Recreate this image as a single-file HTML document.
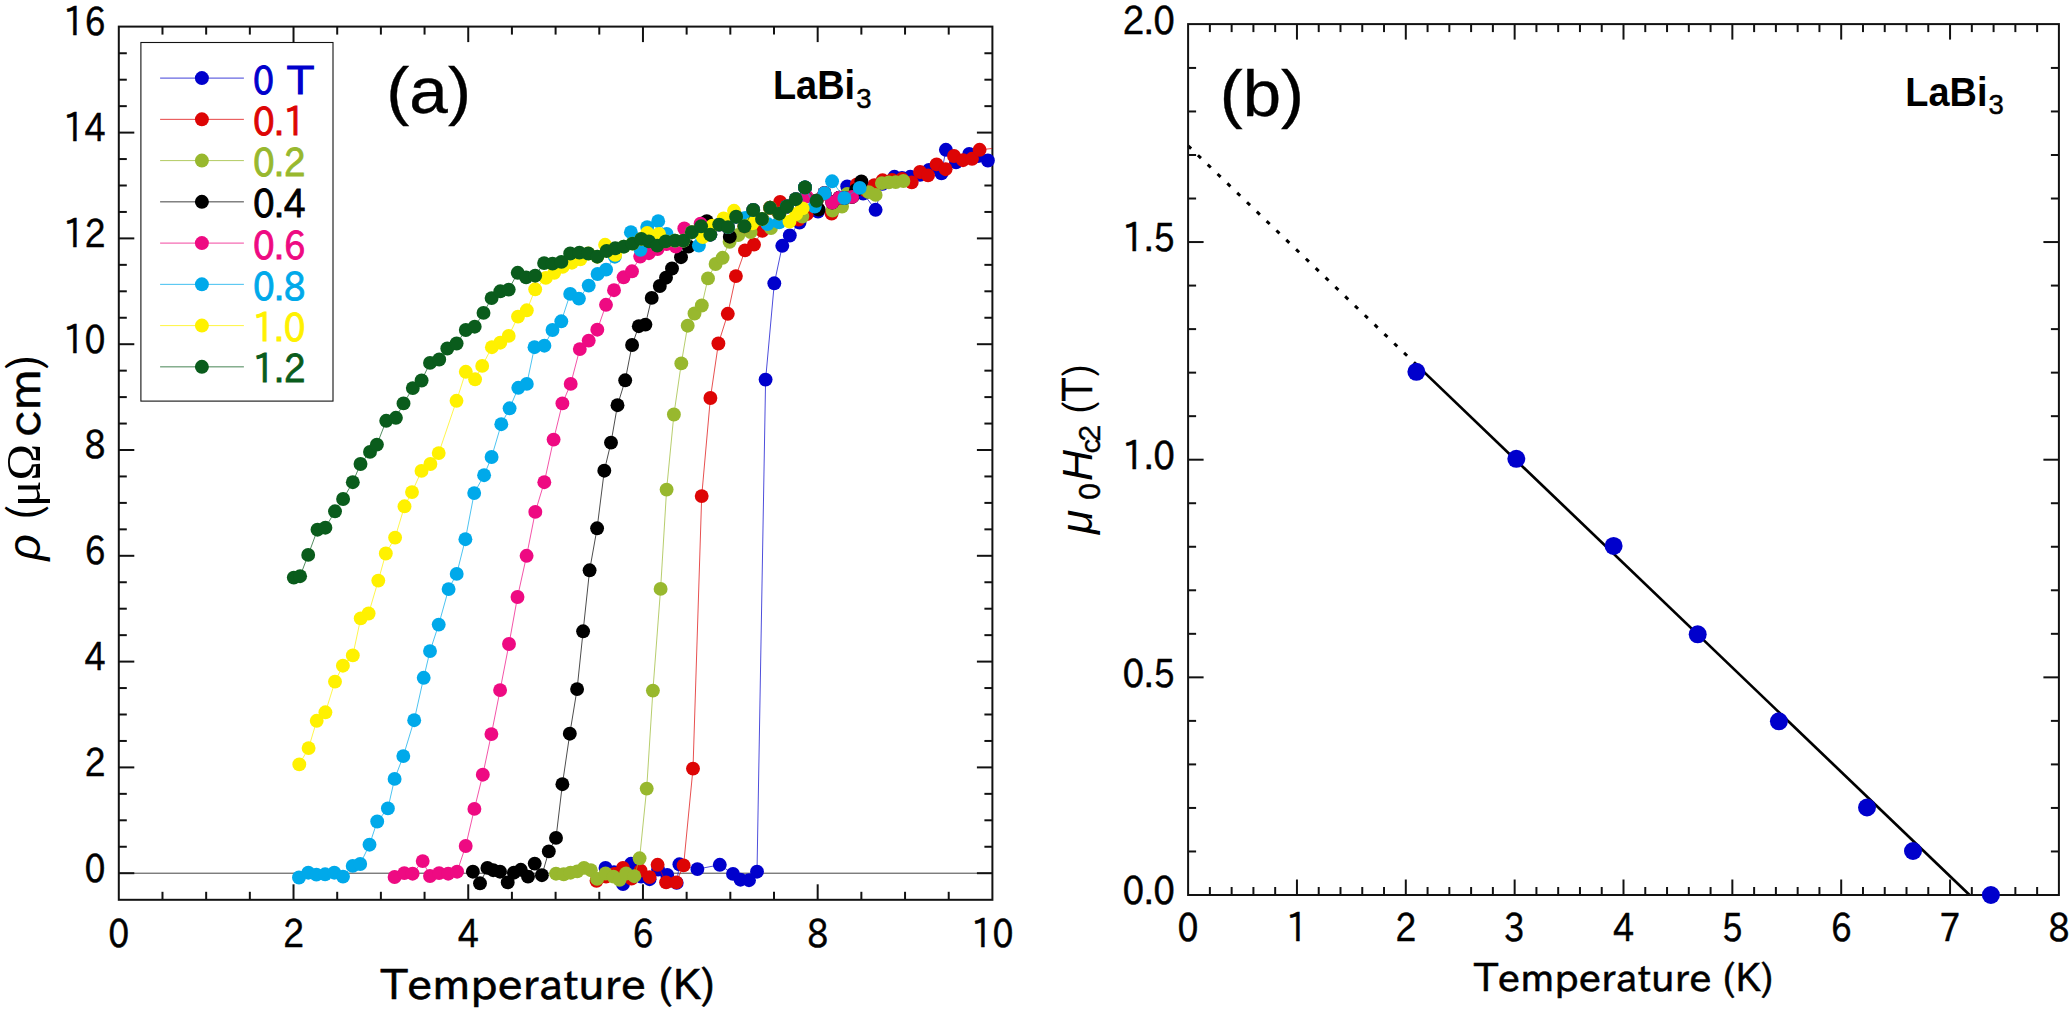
<!DOCTYPE html>
<html lang="en">
<head>
<meta charset="utf-8">
<title>LaBi3 resistivity and upper critical field</title>
<style>
html,body{margin:0;padding:0;background:#fff;}
body{width:2070px;height:1010px;overflow:hidden;}

.t{font-family:IPAPGothic,"Liberation Sans",sans-serif;}
.b{font-family:"Liberation Sans",Arial,sans-serif;font-weight:bold;}
.s{font-family:"Liberation Sans",Arial,sans-serif;}
.sym{font-family:"Liberation Serif","DejaVu Serif",serif;}
</style>
</head>
<body>
<svg width="2070" height="1010" viewBox="0 0 2070 1010" style="display:block">
<rect width="2070" height="1010" fill="#ffffff"/>
<g id="panel-a">
<line x1="118.80" y1="873.20" x2="992.40" y2="873.20" stroke="#444" stroke-width="1.0" />
<line x1="162.48" y1="26.60" x2="162.48" y2="34.60" stroke="#121212" stroke-width="2.0" />
<line x1="162.48" y1="899.80" x2="162.48" y2="891.80" stroke="#121212" stroke-width="2.0" />
<line x1="206.16" y1="26.60" x2="206.16" y2="34.60" stroke="#121212" stroke-width="2.0" />
<line x1="206.16" y1="899.80" x2="206.16" y2="891.80" stroke="#121212" stroke-width="2.0" />
<line x1="249.84" y1="26.60" x2="249.84" y2="34.60" stroke="#121212" stroke-width="2.0" />
<line x1="249.84" y1="899.80" x2="249.84" y2="891.80" stroke="#121212" stroke-width="2.0" />
<line x1="293.52" y1="26.60" x2="293.52" y2="42.10" stroke="#121212" stroke-width="2.0" />
<line x1="293.52" y1="899.80" x2="293.52" y2="884.30" stroke="#121212" stroke-width="2.0" />
<line x1="337.20" y1="26.60" x2="337.20" y2="34.60" stroke="#121212" stroke-width="2.0" />
<line x1="337.20" y1="899.80" x2="337.20" y2="891.80" stroke="#121212" stroke-width="2.0" />
<line x1="380.88" y1="26.60" x2="380.88" y2="34.60" stroke="#121212" stroke-width="2.0" />
<line x1="380.88" y1="899.80" x2="380.88" y2="891.80" stroke="#121212" stroke-width="2.0" />
<line x1="424.56" y1="26.60" x2="424.56" y2="34.60" stroke="#121212" stroke-width="2.0" />
<line x1="424.56" y1="899.80" x2="424.56" y2="891.80" stroke="#121212" stroke-width="2.0" />
<line x1="468.24" y1="26.60" x2="468.24" y2="42.10" stroke="#121212" stroke-width="2.0" />
<line x1="468.24" y1="899.80" x2="468.24" y2="884.30" stroke="#121212" stroke-width="2.0" />
<line x1="511.92" y1="26.60" x2="511.92" y2="34.60" stroke="#121212" stroke-width="2.0" />
<line x1="511.92" y1="899.80" x2="511.92" y2="891.80" stroke="#121212" stroke-width="2.0" />
<line x1="555.60" y1="26.60" x2="555.60" y2="34.60" stroke="#121212" stroke-width="2.0" />
<line x1="555.60" y1="899.80" x2="555.60" y2="891.80" stroke="#121212" stroke-width="2.0" />
<line x1="599.28" y1="26.60" x2="599.28" y2="34.60" stroke="#121212" stroke-width="2.0" />
<line x1="599.28" y1="899.80" x2="599.28" y2="891.80" stroke="#121212" stroke-width="2.0" />
<line x1="642.96" y1="26.60" x2="642.96" y2="42.10" stroke="#121212" stroke-width="2.0" />
<line x1="642.96" y1="899.80" x2="642.96" y2="884.30" stroke="#121212" stroke-width="2.0" />
<line x1="686.64" y1="26.60" x2="686.64" y2="34.60" stroke="#121212" stroke-width="2.0" />
<line x1="686.64" y1="899.80" x2="686.64" y2="891.80" stroke="#121212" stroke-width="2.0" />
<line x1="730.32" y1="26.60" x2="730.32" y2="34.60" stroke="#121212" stroke-width="2.0" />
<line x1="730.32" y1="899.80" x2="730.32" y2="891.80" stroke="#121212" stroke-width="2.0" />
<line x1="774.00" y1="26.60" x2="774.00" y2="34.60" stroke="#121212" stroke-width="2.0" />
<line x1="774.00" y1="899.80" x2="774.00" y2="891.80" stroke="#121212" stroke-width="2.0" />
<line x1="817.68" y1="26.60" x2="817.68" y2="42.10" stroke="#121212" stroke-width="2.0" />
<line x1="817.68" y1="899.80" x2="817.68" y2="884.30" stroke="#121212" stroke-width="2.0" />
<line x1="861.36" y1="26.60" x2="861.36" y2="34.60" stroke="#121212" stroke-width="2.0" />
<line x1="861.36" y1="899.80" x2="861.36" y2="891.80" stroke="#121212" stroke-width="2.0" />
<line x1="905.04" y1="26.60" x2="905.04" y2="34.60" stroke="#121212" stroke-width="2.0" />
<line x1="905.04" y1="899.80" x2="905.04" y2="891.80" stroke="#121212" stroke-width="2.0" />
<line x1="948.72" y1="26.60" x2="948.72" y2="34.60" stroke="#121212" stroke-width="2.0" />
<line x1="948.72" y1="899.80" x2="948.72" y2="891.80" stroke="#121212" stroke-width="2.0" />
<line x1="118.80" y1="873.20" x2="134.30" y2="873.20" stroke="#121212" stroke-width="2.0" />
<line x1="992.40" y1="873.20" x2="976.90" y2="873.20" stroke="#121212" stroke-width="2.0" />
<line x1="118.80" y1="846.75" x2="126.80" y2="846.75" stroke="#121212" stroke-width="2.0" />
<line x1="992.40" y1="846.75" x2="984.40" y2="846.75" stroke="#121212" stroke-width="2.0" />
<line x1="118.80" y1="820.30" x2="126.80" y2="820.30" stroke="#121212" stroke-width="2.0" />
<line x1="992.40" y1="820.30" x2="984.40" y2="820.30" stroke="#121212" stroke-width="2.0" />
<line x1="118.80" y1="793.85" x2="126.80" y2="793.85" stroke="#121212" stroke-width="2.0" />
<line x1="992.40" y1="793.85" x2="984.40" y2="793.85" stroke="#121212" stroke-width="2.0" />
<line x1="118.80" y1="767.40" x2="134.30" y2="767.40" stroke="#121212" stroke-width="2.0" />
<line x1="992.40" y1="767.40" x2="976.90" y2="767.40" stroke="#121212" stroke-width="2.0" />
<line x1="118.80" y1="740.95" x2="126.80" y2="740.95" stroke="#121212" stroke-width="2.0" />
<line x1="992.40" y1="740.95" x2="984.40" y2="740.95" stroke="#121212" stroke-width="2.0" />
<line x1="118.80" y1="714.50" x2="126.80" y2="714.50" stroke="#121212" stroke-width="2.0" />
<line x1="992.40" y1="714.50" x2="984.40" y2="714.50" stroke="#121212" stroke-width="2.0" />
<line x1="118.80" y1="688.05" x2="126.80" y2="688.05" stroke="#121212" stroke-width="2.0" />
<line x1="992.40" y1="688.05" x2="984.40" y2="688.05" stroke="#121212" stroke-width="2.0" />
<line x1="118.80" y1="661.60" x2="134.30" y2="661.60" stroke="#121212" stroke-width="2.0" />
<line x1="992.40" y1="661.60" x2="976.90" y2="661.60" stroke="#121212" stroke-width="2.0" />
<line x1="118.80" y1="635.15" x2="126.80" y2="635.15" stroke="#121212" stroke-width="2.0" />
<line x1="992.40" y1="635.15" x2="984.40" y2="635.15" stroke="#121212" stroke-width="2.0" />
<line x1="118.80" y1="608.70" x2="126.80" y2="608.70" stroke="#121212" stroke-width="2.0" />
<line x1="992.40" y1="608.70" x2="984.40" y2="608.70" stroke="#121212" stroke-width="2.0" />
<line x1="118.80" y1="582.25" x2="126.80" y2="582.25" stroke="#121212" stroke-width="2.0" />
<line x1="992.40" y1="582.25" x2="984.40" y2="582.25" stroke="#121212" stroke-width="2.0" />
<line x1="118.80" y1="555.80" x2="134.30" y2="555.80" stroke="#121212" stroke-width="2.0" />
<line x1="992.40" y1="555.80" x2="976.90" y2="555.80" stroke="#121212" stroke-width="2.0" />
<line x1="118.80" y1="529.35" x2="126.80" y2="529.35" stroke="#121212" stroke-width="2.0" />
<line x1="992.40" y1="529.35" x2="984.40" y2="529.35" stroke="#121212" stroke-width="2.0" />
<line x1="118.80" y1="502.90" x2="126.80" y2="502.90" stroke="#121212" stroke-width="2.0" />
<line x1="992.40" y1="502.90" x2="984.40" y2="502.90" stroke="#121212" stroke-width="2.0" />
<line x1="118.80" y1="476.45" x2="126.80" y2="476.45" stroke="#121212" stroke-width="2.0" />
<line x1="992.40" y1="476.45" x2="984.40" y2="476.45" stroke="#121212" stroke-width="2.0" />
<line x1="118.80" y1="450.00" x2="134.30" y2="450.00" stroke="#121212" stroke-width="2.0" />
<line x1="992.40" y1="450.00" x2="976.90" y2="450.00" stroke="#121212" stroke-width="2.0" />
<line x1="118.80" y1="423.55" x2="126.80" y2="423.55" stroke="#121212" stroke-width="2.0" />
<line x1="992.40" y1="423.55" x2="984.40" y2="423.55" stroke="#121212" stroke-width="2.0" />
<line x1="118.80" y1="397.10" x2="126.80" y2="397.10" stroke="#121212" stroke-width="2.0" />
<line x1="992.40" y1="397.10" x2="984.40" y2="397.10" stroke="#121212" stroke-width="2.0" />
<line x1="118.80" y1="370.65" x2="126.80" y2="370.65" stroke="#121212" stroke-width="2.0" />
<line x1="992.40" y1="370.65" x2="984.40" y2="370.65" stroke="#121212" stroke-width="2.0" />
<line x1="118.80" y1="344.20" x2="134.30" y2="344.20" stroke="#121212" stroke-width="2.0" />
<line x1="992.40" y1="344.20" x2="976.90" y2="344.20" stroke="#121212" stroke-width="2.0" />
<line x1="118.80" y1="317.75" x2="126.80" y2="317.75" stroke="#121212" stroke-width="2.0" />
<line x1="992.40" y1="317.75" x2="984.40" y2="317.75" stroke="#121212" stroke-width="2.0" />
<line x1="118.80" y1="291.30" x2="126.80" y2="291.30" stroke="#121212" stroke-width="2.0" />
<line x1="992.40" y1="291.30" x2="984.40" y2="291.30" stroke="#121212" stroke-width="2.0" />
<line x1="118.80" y1="264.85" x2="126.80" y2="264.85" stroke="#121212" stroke-width="2.0" />
<line x1="992.40" y1="264.85" x2="984.40" y2="264.85" stroke="#121212" stroke-width="2.0" />
<line x1="118.80" y1="238.40" x2="134.30" y2="238.40" stroke="#121212" stroke-width="2.0" />
<line x1="992.40" y1="238.40" x2="976.90" y2="238.40" stroke="#121212" stroke-width="2.0" />
<line x1="118.80" y1="211.95" x2="126.80" y2="211.95" stroke="#121212" stroke-width="2.0" />
<line x1="992.40" y1="211.95" x2="984.40" y2="211.95" stroke="#121212" stroke-width="2.0" />
<line x1="118.80" y1="185.50" x2="126.80" y2="185.50" stroke="#121212" stroke-width="2.0" />
<line x1="992.40" y1="185.50" x2="984.40" y2="185.50" stroke="#121212" stroke-width="2.0" />
<line x1="118.80" y1="159.05" x2="126.80" y2="159.05" stroke="#121212" stroke-width="2.0" />
<line x1="992.40" y1="159.05" x2="984.40" y2="159.05" stroke="#121212" stroke-width="2.0" />
<line x1="118.80" y1="132.60" x2="134.30" y2="132.60" stroke="#121212" stroke-width="2.0" />
<line x1="992.40" y1="132.60" x2="976.90" y2="132.60" stroke="#121212" stroke-width="2.0" />
<line x1="118.80" y1="106.15" x2="126.80" y2="106.15" stroke="#121212" stroke-width="2.0" />
<line x1="992.40" y1="106.15" x2="984.40" y2="106.15" stroke="#121212" stroke-width="2.0" />
<line x1="118.80" y1="79.70" x2="126.80" y2="79.70" stroke="#121212" stroke-width="2.0" />
<line x1="992.40" y1="79.70" x2="984.40" y2="79.70" stroke="#121212" stroke-width="2.0" />
<line x1="118.80" y1="53.25" x2="126.80" y2="53.25" stroke="#121212" stroke-width="2.0" />
<line x1="992.40" y1="53.25" x2="984.40" y2="53.25" stroke="#121212" stroke-width="2.0" />
<rect x="118.8" y="26.6" width="873.60" height="873.20" fill="none" stroke="#121212" stroke-width="2.0"/>
<path d="M605.5,868.0 L614.0,872.3 L623.0,884.0 L631.0,863.8 L641.1,876.5 L649.6,879.2 L658.1,869.6 L667.2,874.9 L676.7,882.9 L679.4,864.3 L697.4,869.1 L719.8,864.8 L733.0,873.9 L740.5,879.7 L749.0,880.2 L757.0,871.7 L765.6,379.6 L774.3,283.3 L782.3,245.8 L789.8,235.5 L799.5,222.6 L805.0,187.5 L818.0,211.5 L824.5,193.2 L839.4,197.6 L847.2,186.5 L852.1,196.9 L863.2,193.5 L875.6,209.8 L882.6,183.8 L894.4,176.8 L902.0,178.0 L910.3,176.8 L920.0,174.8 L929.0,169.9 L941.5,173.4 L945.9,149.8 L956.0,162.3 L969.2,154.0 L978.0,156.0 L987.9,160.5" fill="none" stroke="#0000cc" stroke-width="0.7" stroke-linejoin="round"/>
<g fill="#0000cc">
<circle cx="605.5" cy="868.0" r="6.95"/>
<circle cx="614.0" cy="872.3" r="6.95"/>
<circle cx="623.0" cy="884.0" r="6.95"/>
<circle cx="631.0" cy="863.8" r="6.95"/>
<circle cx="641.1" cy="876.5" r="6.95"/>
<circle cx="649.6" cy="879.2" r="6.95"/>
<circle cx="658.1" cy="869.6" r="6.95"/>
<circle cx="667.2" cy="874.9" r="6.95"/>
<circle cx="676.7" cy="882.9" r="6.95"/>
<circle cx="679.4" cy="864.3" r="6.95"/>
<circle cx="697.4" cy="869.1" r="6.95"/>
<circle cx="719.8" cy="864.8" r="6.95"/>
<circle cx="733.0" cy="873.9" r="6.95"/>
<circle cx="740.5" cy="879.7" r="6.95"/>
<circle cx="749.0" cy="880.2" r="6.95"/>
<circle cx="757.0" cy="871.7" r="6.95"/>
<circle cx="765.6" cy="379.6" r="6.95"/>
<circle cx="774.3" cy="283.3" r="6.95"/>
<circle cx="782.3" cy="245.8" r="6.95"/>
<circle cx="789.8" cy="235.5" r="6.95"/>
<circle cx="799.5" cy="222.6" r="6.95"/>
<circle cx="805.0" cy="187.5" r="6.95"/>
<circle cx="818.0" cy="211.5" r="6.95"/>
<circle cx="824.5" cy="193.2" r="6.95"/>
<circle cx="839.4" cy="197.6" r="6.95"/>
<circle cx="847.2" cy="186.5" r="6.95"/>
<circle cx="852.1" cy="196.9" r="6.95"/>
<circle cx="863.2" cy="193.5" r="6.95"/>
<circle cx="875.6" cy="209.8" r="6.95"/>
<circle cx="882.6" cy="183.8" r="6.95"/>
<circle cx="894.4" cy="176.8" r="6.95"/>
<circle cx="902.0" cy="178.0" r="6.95"/>
<circle cx="910.3" cy="176.8" r="6.95"/>
<circle cx="920.0" cy="174.8" r="6.95"/>
<circle cx="929.0" cy="169.9" r="6.95"/>
<circle cx="941.5" cy="173.4" r="6.95"/>
<circle cx="945.9" cy="149.8" r="6.95"/>
<circle cx="956.0" cy="162.3" r="6.95"/>
<circle cx="969.2" cy="154.0" r="6.95"/>
<circle cx="978.0" cy="156.0" r="6.95"/>
<circle cx="987.9" cy="160.5" r="6.95"/>
</g>
<path d="M596.5,880.8 L606.0,876.5 L614.5,874.0 L623.0,868.0 L631.5,878.6 L640.6,870.7 L649.6,877.1 L657.6,864.8 L666.1,882.4 L676.2,882.4 L683.6,865.4 L693.0,768.6 L701.7,496.1 L710.4,398.0 L718.4,343.5 L727.8,313.8 L735.9,276.1 L745.0,250.4 L754.0,244.6 L762.3,230.8 L770.1,207.8 L780.1,202.0 L786.9,206.5 L798.5,219.5 L806.8,214.0 L816.5,200.8 L824.5,193.2 L831.6,213.5 L839.4,197.6 L844.4,198.0 L856.9,184.5 L865.9,190.7 L874.3,185.2 L882.6,180.3 L892.0,180.0 L902.0,178.9 L911.7,182.4 L920.0,172.0 L928.0,175.4 L936.6,164.4 L945.6,169.2 L954.0,156.0 L963.0,160.2 L972.0,158.8 L979.6,149.8 L992.0,148.5" fill="none" stroke="#dd0505" stroke-width="0.7" stroke-linejoin="round"/>
<g fill="#dd0505">
<circle cx="596.5" cy="880.8" r="6.95"/>
<circle cx="606.0" cy="876.5" r="6.95"/>
<circle cx="614.5" cy="874.0" r="6.95"/>
<circle cx="623.0" cy="868.0" r="6.95"/>
<circle cx="631.5" cy="878.6" r="6.95"/>
<circle cx="640.6" cy="870.7" r="6.95"/>
<circle cx="649.6" cy="877.1" r="6.95"/>
<circle cx="657.6" cy="864.8" r="6.95"/>
<circle cx="666.1" cy="882.4" r="6.95"/>
<circle cx="676.2" cy="882.4" r="6.95"/>
<circle cx="683.6" cy="865.4" r="6.95"/>
<circle cx="693.0" cy="768.6" r="6.95"/>
<circle cx="701.7" cy="496.1" r="6.95"/>
<circle cx="710.4" cy="398.0" r="6.95"/>
<circle cx="718.4" cy="343.5" r="6.95"/>
<circle cx="727.8" cy="313.8" r="6.95"/>
<circle cx="735.9" cy="276.1" r="6.95"/>
<circle cx="745.0" cy="250.4" r="6.95"/>
<circle cx="754.0" cy="244.6" r="6.95"/>
<circle cx="762.3" cy="230.8" r="6.95"/>
<circle cx="770.1" cy="207.8" r="6.95"/>
<circle cx="780.1" cy="202.0" r="6.95"/>
<circle cx="786.9" cy="206.5" r="6.95"/>
<circle cx="798.5" cy="219.5" r="6.95"/>
<circle cx="806.8" cy="214.0" r="6.95"/>
<circle cx="816.5" cy="200.8" r="6.95"/>
<circle cx="824.5" cy="193.2" r="6.95"/>
<circle cx="831.6" cy="213.5" r="6.95"/>
<circle cx="839.4" cy="197.6" r="6.95"/>
<circle cx="844.4" cy="198.0" r="6.95"/>
<circle cx="856.9" cy="184.5" r="6.95"/>
<circle cx="865.9" cy="190.7" r="6.95"/>
<circle cx="874.3" cy="185.2" r="6.95"/>
<circle cx="882.6" cy="180.3" r="6.95"/>
<circle cx="892.0" cy="180.0" r="6.95"/>
<circle cx="902.0" cy="178.9" r="6.95"/>
<circle cx="911.7" cy="182.4" r="6.95"/>
<circle cx="920.0" cy="172.0" r="6.95"/>
<circle cx="928.0" cy="175.4" r="6.95"/>
<circle cx="936.6" cy="164.4" r="6.95"/>
<circle cx="945.6" cy="169.2" r="6.95"/>
<circle cx="954.0" cy="156.0" r="6.95"/>
<circle cx="963.0" cy="160.2" r="6.95"/>
<circle cx="972.0" cy="158.8" r="6.95"/>
<circle cx="979.6" cy="149.8" r="6.95"/>
</g>
<path d="M556.0,873.7 L563.7,874.3 L570.5,872.7 L577.2,871.4 L584.0,867.9 L590.8,870.2 L597.1,878.9 L605.6,873.5 L613.5,876.6 L619.6,879.8 L626.1,873.5 L634.3,876.2 L639.6,858.3 L646.7,788.6 L652.9,690.6 L660.6,588.9 L666.6,489.6 L673.9,414.5 L681.3,363.4 L687.7,325.7 L694.5,313.5 L701.8,305.5 L708.0,278.4 L715.6,264.0 L722.6,257.8 L729.6,241.8 L738.3,235.0 L744.5,226.3 L750.6,232.0 L753.2,210.0 L762.0,219.0 L771.0,228.0 L779.3,213.7 L786.9,206.5 L795.8,199.2 L795.8,199.2 L802.3,216.5 L805.0,187.5 L816.5,200.8 L824.5,193.2 L832.5,210.5 L842.0,206.5 L847.2,194.0 L852.1,196.9 L859.7,187.9 L868.7,192.1 L875.6,194.9 L881.9,183.1 L888.8,182.4 L895.7,182.1 L903.4,181.0" fill="none" stroke="#98b82e" stroke-width="0.7" stroke-linejoin="round"/>
<g fill="#98b82e">
<circle cx="556.0" cy="873.7" r="6.95"/>
<circle cx="563.7" cy="874.3" r="6.95"/>
<circle cx="570.5" cy="872.7" r="6.95"/>
<circle cx="577.2" cy="871.4" r="6.95"/>
<circle cx="584.0" cy="867.9" r="6.95"/>
<circle cx="590.8" cy="870.2" r="6.95"/>
<circle cx="597.1" cy="878.9" r="6.95"/>
<circle cx="605.6" cy="873.5" r="6.95"/>
<circle cx="613.5" cy="876.6" r="6.95"/>
<circle cx="619.6" cy="879.8" r="6.95"/>
<circle cx="626.1" cy="873.5" r="6.95"/>
<circle cx="634.3" cy="876.2" r="6.95"/>
<circle cx="639.6" cy="858.3" r="6.95"/>
<circle cx="646.7" cy="788.6" r="6.95"/>
<circle cx="652.9" cy="690.6" r="6.95"/>
<circle cx="660.6" cy="588.9" r="6.95"/>
<circle cx="666.6" cy="489.6" r="6.95"/>
<circle cx="673.9" cy="414.5" r="6.95"/>
<circle cx="681.3" cy="363.4" r="6.95"/>
<circle cx="687.7" cy="325.7" r="6.95"/>
<circle cx="694.5" cy="313.5" r="6.95"/>
<circle cx="701.8" cy="305.5" r="6.95"/>
<circle cx="708.0" cy="278.4" r="6.95"/>
<circle cx="715.6" cy="264.0" r="6.95"/>
<circle cx="722.6" cy="257.8" r="6.95"/>
<circle cx="729.6" cy="241.8" r="6.95"/>
<circle cx="738.3" cy="235.0" r="6.95"/>
<circle cx="744.5" cy="226.3" r="6.95"/>
<circle cx="750.6" cy="232.0" r="6.95"/>
<circle cx="753.2" cy="210.0" r="6.95"/>
<circle cx="762.0" cy="219.0" r="6.95"/>
<circle cx="771.0" cy="228.0" r="6.95"/>
<circle cx="779.3" cy="213.7" r="6.95"/>
<circle cx="786.9" cy="206.5" r="6.95"/>
<circle cx="795.8" cy="199.2" r="6.95"/>
<circle cx="795.8" cy="199.2" r="6.95"/>
<circle cx="802.3" cy="216.5" r="6.95"/>
<circle cx="805.0" cy="187.5" r="6.95"/>
<circle cx="816.5" cy="200.8" r="6.95"/>
<circle cx="824.5" cy="193.2" r="6.95"/>
<circle cx="832.5" cy="210.5" r="6.95"/>
<circle cx="842.0" cy="206.5" r="6.95"/>
<circle cx="847.2" cy="194.0" r="6.95"/>
<circle cx="852.1" cy="196.9" r="6.95"/>
<circle cx="859.7" cy="187.9" r="6.95"/>
<circle cx="868.7" cy="192.1" r="6.95"/>
<circle cx="875.6" cy="194.9" r="6.95"/>
<circle cx="881.9" cy="183.1" r="6.95"/>
<circle cx="888.8" cy="182.4" r="6.95"/>
<circle cx="895.7" cy="182.1" r="6.95"/>
<circle cx="903.4" cy="181.0" r="6.95"/>
</g>
<path d="M472.9,871.7 L480.0,883.3 L487.4,867.9 L493.2,870.2 L500.0,871.7 L507.7,882.4 L513.9,872.7 L520.8,869.8 L528.0,876.6 L534.7,863.6 L541.9,875.2 L548.8,851.4 L556.0,837.9 L562.4,784.2 L569.8,733.7 L577.1,689.1 L583.1,631.3 L589.6,570.3 L597.1,528.3 L604.3,470.7 L611.0,442.6 L617.5,405.2 L625.2,380.3 L632.1,345.0 L638.8,326.2 L645.4,324.6 L651.7,297.9 L659.8,286.0 L666.0,277.7 L672.0,268.5 L681.0,257.2 L688.5,246.5 L691.8,232.2 L701.1,226.3 L706.8,221.2 L710.3,234.7 L719.2,224.6 L728.0,227.1 L729.8,236.7 L736.1,216.7 L744.5,226.3 L753.2,210.0 L762.0,219.0 L770.1,207.8 L779.3,213.7 L786.9,206.5 L786.9,206.5 L795.8,199.2 L805.0,187.5 L816.5,200.8 L818.6,209.5 L824.5,193.2 L832.2,202.5 L839.4,197.6 L844.4,198.0 L852.1,196.9 L856.0,190.0 L861.4,181.5" fill="none" stroke="#000000" stroke-width="0.7" stroke-linejoin="round"/>
<g fill="#000000">
<circle cx="472.9" cy="871.7" r="6.95"/>
<circle cx="480.0" cy="883.3" r="6.95"/>
<circle cx="487.4" cy="867.9" r="6.95"/>
<circle cx="493.2" cy="870.2" r="6.95"/>
<circle cx="500.0" cy="871.7" r="6.95"/>
<circle cx="507.7" cy="882.4" r="6.95"/>
<circle cx="513.9" cy="872.7" r="6.95"/>
<circle cx="520.8" cy="869.8" r="6.95"/>
<circle cx="528.0" cy="876.6" r="6.95"/>
<circle cx="534.7" cy="863.6" r="6.95"/>
<circle cx="541.9" cy="875.2" r="6.95"/>
<circle cx="548.8" cy="851.4" r="6.95"/>
<circle cx="556.0" cy="837.9" r="6.95"/>
<circle cx="562.4" cy="784.2" r="6.95"/>
<circle cx="569.8" cy="733.7" r="6.95"/>
<circle cx="577.1" cy="689.1" r="6.95"/>
<circle cx="583.1" cy="631.3" r="6.95"/>
<circle cx="589.6" cy="570.3" r="6.95"/>
<circle cx="597.1" cy="528.3" r="6.95"/>
<circle cx="604.3" cy="470.7" r="6.95"/>
<circle cx="611.0" cy="442.6" r="6.95"/>
<circle cx="617.5" cy="405.2" r="6.95"/>
<circle cx="625.2" cy="380.3" r="6.95"/>
<circle cx="632.1" cy="345.0" r="6.95"/>
<circle cx="638.8" cy="326.2" r="6.95"/>
<circle cx="645.4" cy="324.6" r="6.95"/>
<circle cx="651.7" cy="297.9" r="6.95"/>
<circle cx="659.8" cy="286.0" r="6.95"/>
<circle cx="666.0" cy="277.7" r="6.95"/>
<circle cx="672.0" cy="268.5" r="6.95"/>
<circle cx="681.0" cy="257.2" r="6.95"/>
<circle cx="688.5" cy="246.5" r="6.95"/>
<circle cx="691.8" cy="232.2" r="6.95"/>
<circle cx="701.1" cy="226.3" r="6.95"/>
<circle cx="706.8" cy="221.2" r="6.95"/>
<circle cx="710.3" cy="234.7" r="6.95"/>
<circle cx="719.2" cy="224.6" r="6.95"/>
<circle cx="728.0" cy="227.1" r="6.95"/>
<circle cx="729.8" cy="236.7" r="6.95"/>
<circle cx="736.1" cy="216.7" r="6.95"/>
<circle cx="744.5" cy="226.3" r="6.95"/>
<circle cx="753.2" cy="210.0" r="6.95"/>
<circle cx="762.0" cy="219.0" r="6.95"/>
<circle cx="770.1" cy="207.8" r="6.95"/>
<circle cx="779.3" cy="213.7" r="6.95"/>
<circle cx="786.9" cy="206.5" r="6.95"/>
<circle cx="786.9" cy="206.5" r="6.95"/>
<circle cx="795.8" cy="199.2" r="6.95"/>
<circle cx="805.0" cy="187.5" r="6.95"/>
<circle cx="816.5" cy="200.8" r="6.95"/>
<circle cx="818.6" cy="209.5" r="6.95"/>
<circle cx="824.5" cy="193.2" r="6.95"/>
<circle cx="832.2" cy="202.5" r="6.95"/>
<circle cx="839.4" cy="197.6" r="6.95"/>
<circle cx="844.4" cy="198.0" r="6.95"/>
<circle cx="852.1" cy="196.9" r="6.95"/>
<circle cx="856.0" cy="190.0" r="6.95"/>
<circle cx="861.4" cy="181.5" r="6.95"/>
</g>
<path d="M394.6,877.0 L404.3,873.1 L412.6,873.7 L422.7,861.1 L430.0,876.0 L439.1,873.1 L448.2,873.7 L457.1,871.7 L465.7,846.0 L474.4,808.9 L482.8,774.7 L491.4,734.1 L500.1,690.1 L509.0,644.0 L517.5,597.0 L526.6,555.8 L535.3,511.9 L544.3,482.2 L553.6,439.6 L562.4,403.4 L570.7,383.9 L579.8,349.1 L588.7,340.6 L597.3,329.7 L606.0,304.8 L614.0,290.2 L623.6,277.3 L632.0,271.3 L640.2,256.6 L648.9,253.2 L657.5,249.0 L666.5,244.0 L675.8,246.5 L684.3,228.5 L691.8,232.2 L700.6,223.6 L710.3,234.7 L719.2,224.6 L728.0,227.1 L736.1,216.7 L744.5,226.3 L753.2,210.0 L762.0,219.0 L770.1,207.8 L779.3,213.7 L786.9,206.5 L795.8,199.2 L806.5,196.5 L816.5,200.8 L824.5,193.2 L832.2,202.5 L839.4,197.6 L852.1,196.9" fill="none" stroke="#ee0a82" stroke-width="0.7" stroke-linejoin="round"/>
<g fill="#ee0a82">
<circle cx="394.6" cy="877.0" r="6.95"/>
<circle cx="404.3" cy="873.1" r="6.95"/>
<circle cx="412.6" cy="873.7" r="6.95"/>
<circle cx="422.7" cy="861.1" r="6.95"/>
<circle cx="430.0" cy="876.0" r="6.95"/>
<circle cx="439.1" cy="873.1" r="6.95"/>
<circle cx="448.2" cy="873.7" r="6.95"/>
<circle cx="457.1" cy="871.7" r="6.95"/>
<circle cx="465.7" cy="846.0" r="6.95"/>
<circle cx="474.4" cy="808.9" r="6.95"/>
<circle cx="482.8" cy="774.7" r="6.95"/>
<circle cx="491.4" cy="734.1" r="6.95"/>
<circle cx="500.1" cy="690.1" r="6.95"/>
<circle cx="509.0" cy="644.0" r="6.95"/>
<circle cx="517.5" cy="597.0" r="6.95"/>
<circle cx="526.6" cy="555.8" r="6.95"/>
<circle cx="535.3" cy="511.9" r="6.95"/>
<circle cx="544.3" cy="482.2" r="6.95"/>
<circle cx="553.6" cy="439.6" r="6.95"/>
<circle cx="562.4" cy="403.4" r="6.95"/>
<circle cx="570.7" cy="383.9" r="6.95"/>
<circle cx="579.8" cy="349.1" r="6.95"/>
<circle cx="588.7" cy="340.6" r="6.95"/>
<circle cx="597.3" cy="329.7" r="6.95"/>
<circle cx="606.0" cy="304.8" r="6.95"/>
<circle cx="614.0" cy="290.2" r="6.95"/>
<circle cx="623.6" cy="277.3" r="6.95"/>
<circle cx="632.0" cy="271.3" r="6.95"/>
<circle cx="640.2" cy="256.6" r="6.95"/>
<circle cx="648.9" cy="253.2" r="6.95"/>
<circle cx="657.5" cy="249.0" r="6.95"/>
<circle cx="666.5" cy="244.0" r="6.95"/>
<circle cx="675.8" cy="246.5" r="6.95"/>
<circle cx="684.3" cy="228.5" r="6.95"/>
<circle cx="691.8" cy="232.2" r="6.95"/>
<circle cx="700.6" cy="223.6" r="6.95"/>
<circle cx="710.3" cy="234.7" r="6.95"/>
<circle cx="719.2" cy="224.6" r="6.95"/>
<circle cx="728.0" cy="227.1" r="6.95"/>
<circle cx="736.1" cy="216.7" r="6.95"/>
<circle cx="744.5" cy="226.3" r="6.95"/>
<circle cx="753.2" cy="210.0" r="6.95"/>
<circle cx="762.0" cy="219.0" r="6.95"/>
<circle cx="770.1" cy="207.8" r="6.95"/>
<circle cx="779.3" cy="213.7" r="6.95"/>
<circle cx="786.9" cy="206.5" r="6.95"/>
<circle cx="795.8" cy="199.2" r="6.95"/>
<circle cx="806.5" cy="196.5" r="6.95"/>
<circle cx="816.5" cy="200.8" r="6.95"/>
<circle cx="824.5" cy="193.2" r="6.95"/>
<circle cx="832.2" cy="202.5" r="6.95"/>
<circle cx="839.4" cy="197.6" r="6.95"/>
<circle cx="852.1" cy="196.9" r="6.95"/>
</g>
<path d="M299.0,877.5 L308.3,872.7 L316.4,874.6 L325.1,874.3 L334.3,872.7 L343.0,876.6 L352.7,865.9 L360.2,864.0 L369.5,844.7 L377.2,821.5 L387.9,808.4 L394.6,778.9 L403.3,756.1 L414.2,720.2 L423.7,677.8 L430.0,651.1 L438.7,624.6 L448.6,589.1 L456.7,573.9 L465.4,539.2 L474.2,493.1 L484.1,475.2 L491.6,457.0 L501.3,424.2 L509.6,408.3 L518.3,387.8 L526.8,383.9 L534.5,347.2 L544.4,345.7 L552.5,330.0 L561.3,321.3 L570.2,293.9 L578.9,298.6 L588.7,285.6 L597.6,274.0 L606.1,269.6 L614.8,256.7 L623.8,246.6 L630.9,232.2 L640.5,249.8 L647.2,227.1 L658.2,221.2 L666.6,233.9 L675.0,240.6 L683.4,240.6 L691.8,232.2 L698.9,245.6 L710.3,234.7 L719.2,224.6 L728.0,227.1 L736.1,216.7 L745.3,218.0 L753.2,210.0 L762.0,219.0 L767.5,224.0 L779.2,222.4 L786.9,206.5 L795.8,199.2 L805.0,187.5 L814.7,206.6 L824.5,193.2 L832.1,181.3 L844.4,198.0 L859.7,187.9" fill="none" stroke="#00a9ea" stroke-width="0.7" stroke-linejoin="round"/>
<g fill="#00a9ea">
<circle cx="299.0" cy="877.5" r="6.95"/>
<circle cx="308.3" cy="872.7" r="6.95"/>
<circle cx="316.4" cy="874.6" r="6.95"/>
<circle cx="325.1" cy="874.3" r="6.95"/>
<circle cx="334.3" cy="872.7" r="6.95"/>
<circle cx="343.0" cy="876.6" r="6.95"/>
<circle cx="352.7" cy="865.9" r="6.95"/>
<circle cx="360.2" cy="864.0" r="6.95"/>
<circle cx="369.5" cy="844.7" r="6.95"/>
<circle cx="377.2" cy="821.5" r="6.95"/>
<circle cx="387.9" cy="808.4" r="6.95"/>
<circle cx="394.6" cy="778.9" r="6.95"/>
<circle cx="403.3" cy="756.1" r="6.95"/>
<circle cx="414.2" cy="720.2" r="6.95"/>
<circle cx="423.7" cy="677.8" r="6.95"/>
<circle cx="430.0" cy="651.1" r="6.95"/>
<circle cx="438.7" cy="624.6" r="6.95"/>
<circle cx="448.6" cy="589.1" r="6.95"/>
<circle cx="456.7" cy="573.9" r="6.95"/>
<circle cx="465.4" cy="539.2" r="6.95"/>
<circle cx="474.2" cy="493.1" r="6.95"/>
<circle cx="484.1" cy="475.2" r="6.95"/>
<circle cx="491.6" cy="457.0" r="6.95"/>
<circle cx="501.3" cy="424.2" r="6.95"/>
<circle cx="509.6" cy="408.3" r="6.95"/>
<circle cx="518.3" cy="387.8" r="6.95"/>
<circle cx="526.8" cy="383.9" r="6.95"/>
<circle cx="534.5" cy="347.2" r="6.95"/>
<circle cx="544.4" cy="345.7" r="6.95"/>
<circle cx="552.5" cy="330.0" r="6.95"/>
<circle cx="561.3" cy="321.3" r="6.95"/>
<circle cx="570.2" cy="293.9" r="6.95"/>
<circle cx="578.9" cy="298.6" r="6.95"/>
<circle cx="588.7" cy="285.6" r="6.95"/>
<circle cx="597.6" cy="274.0" r="6.95"/>
<circle cx="606.1" cy="269.6" r="6.95"/>
<circle cx="614.8" cy="256.7" r="6.95"/>
<circle cx="623.8" cy="246.6" r="6.95"/>
<circle cx="630.9" cy="232.2" r="6.95"/>
<circle cx="640.5" cy="249.8" r="6.95"/>
<circle cx="647.2" cy="227.1" r="6.95"/>
<circle cx="658.2" cy="221.2" r="6.95"/>
<circle cx="666.6" cy="233.9" r="6.95"/>
<circle cx="675.0" cy="240.6" r="6.95"/>
<circle cx="683.4" cy="240.6" r="6.95"/>
<circle cx="691.8" cy="232.2" r="6.95"/>
<circle cx="698.9" cy="245.6" r="6.95"/>
<circle cx="710.3" cy="234.7" r="6.95"/>
<circle cx="719.2" cy="224.6" r="6.95"/>
<circle cx="728.0" cy="227.1" r="6.95"/>
<circle cx="736.1" cy="216.7" r="6.95"/>
<circle cx="745.3" cy="218.0" r="6.95"/>
<circle cx="753.2" cy="210.0" r="6.95"/>
<circle cx="762.0" cy="219.0" r="6.95"/>
<circle cx="767.5" cy="224.0" r="6.95"/>
<circle cx="779.2" cy="222.4" r="6.95"/>
<circle cx="786.9" cy="206.5" r="6.95"/>
<circle cx="795.8" cy="199.2" r="6.95"/>
<circle cx="805.0" cy="187.5" r="6.95"/>
<circle cx="814.7" cy="206.6" r="6.95"/>
<circle cx="824.5" cy="193.2" r="6.95"/>
<circle cx="832.1" cy="181.3" r="6.95"/>
<circle cx="844.4" cy="198.0" r="6.95"/>
<circle cx="859.7" cy="187.9" r="6.95"/>
</g>
<path d="M299.3,764.4 L308.6,748.1 L316.7,720.8 L325.4,712.3 L335.0,681.6 L342.9,665.7 L352.8,655.4 L360.7,618.4 L368.6,613.5 L378.3,580.6 L385.8,553.5 L395.1,537.6 L404.5,506.3 L412.0,492.1 L421.5,470.9 L430.4,464.0 L438.7,453.1 L456.5,400.8 L465.8,371.8 L475.1,379.3 L482.2,365.9 L491.9,347.2 L500.3,342.7 L508.7,335.9 L518.0,316.6 L526.8,310.3 L535.2,289.3 L545.8,277.9 L554.2,272.8 L562.6,266.9 L571.9,262.7 L580.3,259.4 L588.3,253.5 L597.3,256.7 L605.1,244.8 L615.2,254.9 L623.8,246.6 L632.5,243.6 L641.3,238.9 L647.2,233.0 L659.0,233.9 L665.7,241.4 L675.0,240.6 L683.4,240.6 L691.8,232.2 L702.8,237.0 L712.4,225.6 L723.6,218.5 L734.0,210.8 L744.5,226.3 L752.3,223.4 L762.0,219.0 L770.1,207.8 L779.3,213.7 L789.5,221.6 L796.2,214.0 L802.6,208.4" fill="none" stroke="#fff100" stroke-width="0.7" stroke-linejoin="round"/>
<g fill="#fff100">
<circle cx="299.3" cy="764.4" r="6.95"/>
<circle cx="308.6" cy="748.1" r="6.95"/>
<circle cx="316.7" cy="720.8" r="6.95"/>
<circle cx="325.4" cy="712.3" r="6.95"/>
<circle cx="335.0" cy="681.6" r="6.95"/>
<circle cx="342.9" cy="665.7" r="6.95"/>
<circle cx="352.8" cy="655.4" r="6.95"/>
<circle cx="360.7" cy="618.4" r="6.95"/>
<circle cx="368.6" cy="613.5" r="6.95"/>
<circle cx="378.3" cy="580.6" r="6.95"/>
<circle cx="385.8" cy="553.5" r="6.95"/>
<circle cx="395.1" cy="537.6" r="6.95"/>
<circle cx="404.5" cy="506.3" r="6.95"/>
<circle cx="412.0" cy="492.1" r="6.95"/>
<circle cx="421.5" cy="470.9" r="6.95"/>
<circle cx="430.4" cy="464.0" r="6.95"/>
<circle cx="438.7" cy="453.1" r="6.95"/>
<circle cx="456.5" cy="400.8" r="6.95"/>
<circle cx="465.8" cy="371.8" r="6.95"/>
<circle cx="475.1" cy="379.3" r="6.95"/>
<circle cx="482.2" cy="365.9" r="6.95"/>
<circle cx="491.9" cy="347.2" r="6.95"/>
<circle cx="500.3" cy="342.7" r="6.95"/>
<circle cx="508.7" cy="335.9" r="6.95"/>
<circle cx="518.0" cy="316.6" r="6.95"/>
<circle cx="526.8" cy="310.3" r="6.95"/>
<circle cx="535.2" cy="289.3" r="6.95"/>
<circle cx="545.8" cy="277.9" r="6.95"/>
<circle cx="554.2" cy="272.8" r="6.95"/>
<circle cx="562.6" cy="266.9" r="6.95"/>
<circle cx="571.9" cy="262.7" r="6.95"/>
<circle cx="580.3" cy="259.4" r="6.95"/>
<circle cx="588.3" cy="253.5" r="6.95"/>
<circle cx="597.3" cy="256.7" r="6.95"/>
<circle cx="605.1" cy="244.8" r="6.95"/>
<circle cx="615.2" cy="254.9" r="6.95"/>
<circle cx="623.8" cy="246.6" r="6.95"/>
<circle cx="632.5" cy="243.6" r="6.95"/>
<circle cx="641.3" cy="238.9" r="6.95"/>
<circle cx="647.2" cy="233.0" r="6.95"/>
<circle cx="659.0" cy="233.9" r="6.95"/>
<circle cx="665.7" cy="241.4" r="6.95"/>
<circle cx="675.0" cy="240.6" r="6.95"/>
<circle cx="683.4" cy="240.6" r="6.95"/>
<circle cx="691.8" cy="232.2" r="6.95"/>
<circle cx="702.8" cy="237.0" r="6.95"/>
<circle cx="712.4" cy="225.6" r="6.95"/>
<circle cx="723.6" cy="218.5" r="6.95"/>
<circle cx="734.0" cy="210.8" r="6.95"/>
<circle cx="744.5" cy="226.3" r="6.95"/>
<circle cx="752.3" cy="223.4" r="6.95"/>
<circle cx="762.0" cy="219.0" r="6.95"/>
<circle cx="770.1" cy="207.8" r="6.95"/>
<circle cx="779.3" cy="213.7" r="6.95"/>
<circle cx="789.5" cy="221.6" r="6.95"/>
<circle cx="796.2" cy="214.0" r="6.95"/>
<circle cx="802.6" cy="208.4" r="6.95"/>
</g>
<path d="M293.8,577.6 L300.1,576.2 L308.2,554.9 L317.5,529.7 L325.4,527.7 L335.0,511.3 L343.1,499.0 L352.8,482.2 L360.5,464.0 L370.0,451.9 L376.9,444.6 L386.2,420.8 L395.9,417.8 L403.5,403.4 L412.8,388.1 L421.6,380.5 L430.0,362.9 L439.2,359.5 L447.3,348.5 L456.6,343.5 L465.8,330.0 L474.7,326.7 L483.5,312.9 L491.6,298.1 L500.3,291.3 L508.7,289.6 L517.7,272.8 L526.1,277.4 L535.2,275.7 L544.1,263.1 L552.5,263.6 L561.4,261.9 L570.2,253.5 L579.4,252.6 L588.3,253.5 L597.3,256.7 L606.6,251.0 L615.2,248.3 L623.8,246.6 L632.5,243.6 L641.3,238.9 L648.9,241.4 L657.3,245.6 L665.7,241.4 L675.0,240.6 L683.4,240.6 L691.8,232.2 L701.1,226.3 L710.3,234.7 L719.2,224.6 L728.0,227.1 L736.1,216.7 L744.5,226.3 L753.2,210.0 L762.0,219.0 L770.1,207.8 L779.3,213.7 L786.9,206.5 L795.8,199.2 L805.0,187.5 L816.5,200.8" fill="none" stroke="#0a5c1c" stroke-width="0.7" stroke-linejoin="round"/>
<g fill="#0a5c1c">
<circle cx="293.8" cy="577.6" r="6.95"/>
<circle cx="300.1" cy="576.2" r="6.95"/>
<circle cx="308.2" cy="554.9" r="6.95"/>
<circle cx="317.5" cy="529.7" r="6.95"/>
<circle cx="325.4" cy="527.7" r="6.95"/>
<circle cx="335.0" cy="511.3" r="6.95"/>
<circle cx="343.1" cy="499.0" r="6.95"/>
<circle cx="352.8" cy="482.2" r="6.95"/>
<circle cx="360.5" cy="464.0" r="6.95"/>
<circle cx="370.0" cy="451.9" r="6.95"/>
<circle cx="376.9" cy="444.6" r="6.95"/>
<circle cx="386.2" cy="420.8" r="6.95"/>
<circle cx="395.9" cy="417.8" r="6.95"/>
<circle cx="403.5" cy="403.4" r="6.95"/>
<circle cx="412.8" cy="388.1" r="6.95"/>
<circle cx="421.6" cy="380.5" r="6.95"/>
<circle cx="430.0" cy="362.9" r="6.95"/>
<circle cx="439.2" cy="359.5" r="6.95"/>
<circle cx="447.3" cy="348.5" r="6.95"/>
<circle cx="456.6" cy="343.5" r="6.95"/>
<circle cx="465.8" cy="330.0" r="6.95"/>
<circle cx="474.7" cy="326.7" r="6.95"/>
<circle cx="483.5" cy="312.9" r="6.95"/>
<circle cx="491.6" cy="298.1" r="6.95"/>
<circle cx="500.3" cy="291.3" r="6.95"/>
<circle cx="508.7" cy="289.6" r="6.95"/>
<circle cx="517.7" cy="272.8" r="6.95"/>
<circle cx="526.1" cy="277.4" r="6.95"/>
<circle cx="535.2" cy="275.7" r="6.95"/>
<circle cx="544.1" cy="263.1" r="6.95"/>
<circle cx="552.5" cy="263.6" r="6.95"/>
<circle cx="561.4" cy="261.9" r="6.95"/>
<circle cx="570.2" cy="253.5" r="6.95"/>
<circle cx="579.4" cy="252.6" r="6.95"/>
<circle cx="588.3" cy="253.5" r="6.95"/>
<circle cx="597.3" cy="256.7" r="6.95"/>
<circle cx="606.6" cy="251.0" r="6.95"/>
<circle cx="615.2" cy="248.3" r="6.95"/>
<circle cx="623.8" cy="246.6" r="6.95"/>
<circle cx="632.5" cy="243.6" r="6.95"/>
<circle cx="641.3" cy="238.9" r="6.95"/>
<circle cx="648.9" cy="241.4" r="6.95"/>
<circle cx="657.3" cy="245.6" r="6.95"/>
<circle cx="665.7" cy="241.4" r="6.95"/>
<circle cx="675.0" cy="240.6" r="6.95"/>
<circle cx="683.4" cy="240.6" r="6.95"/>
<circle cx="691.8" cy="232.2" r="6.95"/>
<circle cx="701.1" cy="226.3" r="6.95"/>
<circle cx="710.3" cy="234.7" r="6.95"/>
<circle cx="719.2" cy="224.6" r="6.95"/>
<circle cx="728.0" cy="227.1" r="6.95"/>
<circle cx="736.1" cy="216.7" r="6.95"/>
<circle cx="744.5" cy="226.3" r="6.95"/>
<circle cx="753.2" cy="210.0" r="6.95"/>
<circle cx="762.0" cy="219.0" r="6.95"/>
<circle cx="770.1" cy="207.8" r="6.95"/>
<circle cx="779.3" cy="213.7" r="6.95"/>
<circle cx="786.9" cy="206.5" r="6.95"/>
<circle cx="795.8" cy="199.2" r="6.95"/>
<circle cx="805.0" cy="187.5" r="6.95"/>
<circle cx="816.5" cy="200.8" r="6.95"/>
</g>
<text x="118.8" y="947.3" font-size="38.5" class="t" text-anchor="middle" textLength="21.0" lengthAdjust="spacingAndGlyphs" stroke="#000" stroke-width="0.6">0</text>
<text x="293.5" y="947.3" font-size="38.5" class="t" text-anchor="middle" textLength="21.0" lengthAdjust="spacingAndGlyphs" stroke="#000" stroke-width="0.6">2</text>
<text x="468.2" y="947.3" font-size="38.5" class="t" text-anchor="middle" textLength="21.0" lengthAdjust="spacingAndGlyphs" stroke="#000" stroke-width="0.6">4</text>
<text x="643.0" y="947.3" font-size="38.5" class="t" text-anchor="middle" textLength="21.0" lengthAdjust="spacingAndGlyphs" stroke="#000" stroke-width="0.6">6</text>
<text x="817.7" y="947.3" font-size="38.5" class="t" text-anchor="middle" textLength="21.0" lengthAdjust="spacingAndGlyphs" stroke="#000" stroke-width="0.6">8</text>
<text x="992.4" y="947.3" font-size="38.5" class="t" text-anchor="middle" textLength="42.0" lengthAdjust="spacingAndGlyphs" stroke="#000" stroke-width="0.6">10</text>
<text x="105.5" y="881.5" font-size="38.5" class="t" text-anchor="end" textLength="21.0" lengthAdjust="spacingAndGlyphs" stroke="#000" stroke-width="0.6">0</text>
<text x="105.5" y="775.7" font-size="38.5" class="t" text-anchor="end" textLength="21.0" lengthAdjust="spacingAndGlyphs" stroke="#000" stroke-width="0.6">2</text>
<text x="105.5" y="669.9" font-size="38.5" class="t" text-anchor="end" textLength="21.0" lengthAdjust="spacingAndGlyphs" stroke="#000" stroke-width="0.6">4</text>
<text x="105.5" y="564.1" font-size="38.5" class="t" text-anchor="end" textLength="21.0" lengthAdjust="spacingAndGlyphs" stroke="#000" stroke-width="0.6">6</text>
<text x="105.5" y="458.3" font-size="38.5" class="t" text-anchor="end" textLength="21.0" lengthAdjust="spacingAndGlyphs" stroke="#000" stroke-width="0.6">8</text>
<text x="105.5" y="352.5" font-size="38.5" class="t" text-anchor="end" textLength="42.0" lengthAdjust="spacingAndGlyphs" stroke="#000" stroke-width="0.6">10</text>
<text x="105.5" y="246.7" font-size="38.5" class="t" text-anchor="end" textLength="42.0" lengthAdjust="spacingAndGlyphs" stroke="#000" stroke-width="0.6">12</text>
<text x="105.5" y="140.9" font-size="38.5" class="t" text-anchor="end" textLength="42.0" lengthAdjust="spacingAndGlyphs" stroke="#000" stroke-width="0.6">14</text>
<text x="105.5" y="35.1" font-size="38.5" class="t" text-anchor="end" textLength="42.0" lengthAdjust="spacingAndGlyphs" stroke="#000" stroke-width="0.6">16</text>
<text x="381.0" y="999.1" font-size="42.6" class="t" textLength="334.5" lengthAdjust="spacingAndGlyphs" stroke="#000" stroke-width="0.6">Temperature (K)</text>
<g transform="translate(40.4,0) rotate(-90)">
<text x="-560.5" y="0" font-size="46" font-style="italic" class="s">ρ</text>
<text x="-520.0" y="0.0" font-size="44.7" class="t">(</text>
<text x="-507" y="0" font-size="48" class="sym" textLength="63" lengthAdjust="spacingAndGlyphs">μΩ</text>
<text x="-437.0" y="0.0" font-size="44.7" class="t" textLength="68.5" lengthAdjust="spacingAndGlyphs" stroke="#000" stroke-width="0.4">cm</text>
<text x="-369.5" y="0.0" font-size="44.7" class="t">)</text>
</g>
<text transform="translate(386.3,112.8) scale(1.05,0.98)" font-size="66" class="s" stroke="#000" stroke-width="0.35">(a)</text>
<text transform="translate(772.9,99.2) scale(0.925,1)" font-size="41" class="b">LaBi</text>
<text x="856.2" y="108.2" font-size="27.5" class="s" stroke="#000" stroke-width="0.5">3</text>
<rect x="140.9" y="42.5" width="192.1" height="358.6" fill="#fff" stroke="#121212" stroke-width="1.1"/>
<line x1="160.10" y1="78.10" x2="243.90" y2="78.10" stroke="#0000cc" stroke-width="0.75" />
<circle cx="201.9" cy="78.10" r="7" fill="#0000cc"/>
<text x="252.9" y="93.5" font-size="38.5" class="t" textLength="21.0" lengthAdjust="spacingAndGlyphs" fill="#0000cc" stroke="#0000cc" stroke-width="1.0">0</text>
<text x="287.8" y="93.5" font-size="38.5" class="t" textLength="25.5" lengthAdjust="spacingAndGlyphs" fill="#0000cc" stroke="#0000cc" stroke-width="1.0">T</text>
<line x1="160.10" y1="119.35" x2="243.90" y2="119.35" stroke="#dd0505" stroke-width="0.75" />
<circle cx="201.9" cy="119.35" r="7" fill="#dd0505"/>
<text x="252.9" y="134.8" font-size="38.5" class="t" textLength="52.5" lengthAdjust="spacingAndGlyphs" fill="#dd0505" stroke="#dd0505" stroke-width="1.0">0.1</text>
<line x1="160.10" y1="160.60" x2="243.90" y2="160.60" stroke="#98b82e" stroke-width="0.75" />
<circle cx="201.9" cy="160.60" r="7" fill="#98b82e"/>
<text x="252.9" y="176.0" font-size="38.5" class="t" textLength="52.5" lengthAdjust="spacingAndGlyphs" fill="#98b82e" stroke="#98b82e" stroke-width="1.0">0.2</text>
<line x1="160.10" y1="201.85" x2="243.90" y2="201.85" stroke="#000000" stroke-width="0.75" />
<circle cx="201.9" cy="201.85" r="7" fill="#000000"/>
<text x="252.9" y="217.2" font-size="38.5" class="t" textLength="52.5" lengthAdjust="spacingAndGlyphs" fill="#000000" stroke="#000000" stroke-width="1.0">0.4</text>
<line x1="160.10" y1="243.10" x2="243.90" y2="243.10" stroke="#ee0a82" stroke-width="0.75" />
<circle cx="201.9" cy="243.10" r="7" fill="#ee0a82"/>
<text x="252.9" y="258.5" font-size="38.5" class="t" textLength="52.5" lengthAdjust="spacingAndGlyphs" fill="#ee0a82" stroke="#ee0a82" stroke-width="1.0">0.6</text>
<line x1="160.10" y1="284.35" x2="243.90" y2="284.35" stroke="#00a9ea" stroke-width="0.75" />
<circle cx="201.9" cy="284.35" r="7" fill="#00a9ea"/>
<text x="252.9" y="299.8" font-size="38.5" class="t" textLength="52.5" lengthAdjust="spacingAndGlyphs" fill="#00a9ea" stroke="#00a9ea" stroke-width="1.0">0.8</text>
<line x1="160.10" y1="325.60" x2="243.90" y2="325.60" stroke="#fff100" stroke-width="0.75" />
<circle cx="201.9" cy="325.60" r="7" fill="#fff100"/>
<text x="252.9" y="341.0" font-size="38.5" class="t" textLength="52.5" lengthAdjust="spacingAndGlyphs" fill="#fff100" stroke="#fff100" stroke-width="1.0">1.0</text>
<line x1="160.10" y1="366.85" x2="243.90" y2="366.85" stroke="#0a5c1c" stroke-width="0.75" />
<circle cx="201.9" cy="366.85" r="7" fill="#0a5c1c"/>
<text x="252.9" y="382.2" font-size="38.5" class="t" textLength="52.5" lengthAdjust="spacingAndGlyphs" fill="#0a5c1c" stroke="#0a5c1c" stroke-width="1.0">1.2</text>
</g>
<g id="panel-b">
<line x1="1188.1" y1="145.8" x2="1418.9" y2="367.1" stroke="#000" stroke-width="3.0" stroke-dasharray="4.2 9.4"/>
<line x1="1418.9" y1="367.1" x2="1969.6" y2="895.0" stroke="#000" stroke-width="2.7"/>
<line x1="1209.87" y1="24.10" x2="1209.87" y2="32.10" stroke="#121212" stroke-width="2.0" />
<line x1="1209.87" y1="895.00" x2="1209.87" y2="887.00" stroke="#121212" stroke-width="2.0" />
<line x1="1231.64" y1="24.10" x2="1231.64" y2="32.10" stroke="#121212" stroke-width="2.0" />
<line x1="1231.64" y1="895.00" x2="1231.64" y2="887.00" stroke="#121212" stroke-width="2.0" />
<line x1="1253.41" y1="24.10" x2="1253.41" y2="32.10" stroke="#121212" stroke-width="2.0" />
<line x1="1253.41" y1="895.00" x2="1253.41" y2="887.00" stroke="#121212" stroke-width="2.0" />
<line x1="1275.18" y1="24.10" x2="1275.18" y2="32.10" stroke="#121212" stroke-width="2.0" />
<line x1="1275.18" y1="895.00" x2="1275.18" y2="887.00" stroke="#121212" stroke-width="2.0" />
<line x1="1296.95" y1="24.10" x2="1296.95" y2="39.60" stroke="#121212" stroke-width="2.0" />
<line x1="1296.95" y1="895.00" x2="1296.95" y2="879.50" stroke="#121212" stroke-width="2.0" />
<line x1="1318.72" y1="24.10" x2="1318.72" y2="32.10" stroke="#121212" stroke-width="2.0" />
<line x1="1318.72" y1="895.00" x2="1318.72" y2="887.00" stroke="#121212" stroke-width="2.0" />
<line x1="1340.49" y1="24.10" x2="1340.49" y2="32.10" stroke="#121212" stroke-width="2.0" />
<line x1="1340.49" y1="895.00" x2="1340.49" y2="887.00" stroke="#121212" stroke-width="2.0" />
<line x1="1362.26" y1="24.10" x2="1362.26" y2="32.10" stroke="#121212" stroke-width="2.0" />
<line x1="1362.26" y1="895.00" x2="1362.26" y2="887.00" stroke="#121212" stroke-width="2.0" />
<line x1="1384.03" y1="24.10" x2="1384.03" y2="32.10" stroke="#121212" stroke-width="2.0" />
<line x1="1384.03" y1="895.00" x2="1384.03" y2="887.00" stroke="#121212" stroke-width="2.0" />
<line x1="1405.80" y1="24.10" x2="1405.80" y2="39.60" stroke="#121212" stroke-width="2.0" />
<line x1="1405.80" y1="895.00" x2="1405.80" y2="879.50" stroke="#121212" stroke-width="2.0" />
<line x1="1427.57" y1="24.10" x2="1427.57" y2="32.10" stroke="#121212" stroke-width="2.0" />
<line x1="1427.57" y1="895.00" x2="1427.57" y2="887.00" stroke="#121212" stroke-width="2.0" />
<line x1="1449.34" y1="24.10" x2="1449.34" y2="32.10" stroke="#121212" stroke-width="2.0" />
<line x1="1449.34" y1="895.00" x2="1449.34" y2="887.00" stroke="#121212" stroke-width="2.0" />
<line x1="1471.11" y1="24.10" x2="1471.11" y2="32.10" stroke="#121212" stroke-width="2.0" />
<line x1="1471.11" y1="895.00" x2="1471.11" y2="887.00" stroke="#121212" stroke-width="2.0" />
<line x1="1492.88" y1="24.10" x2="1492.88" y2="32.10" stroke="#121212" stroke-width="2.0" />
<line x1="1492.88" y1="895.00" x2="1492.88" y2="887.00" stroke="#121212" stroke-width="2.0" />
<line x1="1514.65" y1="24.10" x2="1514.65" y2="39.60" stroke="#121212" stroke-width="2.0" />
<line x1="1514.65" y1="895.00" x2="1514.65" y2="879.50" stroke="#121212" stroke-width="2.0" />
<line x1="1536.42" y1="24.10" x2="1536.42" y2="32.10" stroke="#121212" stroke-width="2.0" />
<line x1="1536.42" y1="895.00" x2="1536.42" y2="887.00" stroke="#121212" stroke-width="2.0" />
<line x1="1558.19" y1="24.10" x2="1558.19" y2="32.10" stroke="#121212" stroke-width="2.0" />
<line x1="1558.19" y1="895.00" x2="1558.19" y2="887.00" stroke="#121212" stroke-width="2.0" />
<line x1="1579.96" y1="24.10" x2="1579.96" y2="32.10" stroke="#121212" stroke-width="2.0" />
<line x1="1579.96" y1="895.00" x2="1579.96" y2="887.00" stroke="#121212" stroke-width="2.0" />
<line x1="1601.73" y1="24.10" x2="1601.73" y2="32.10" stroke="#121212" stroke-width="2.0" />
<line x1="1601.73" y1="895.00" x2="1601.73" y2="887.00" stroke="#121212" stroke-width="2.0" />
<line x1="1623.50" y1="24.10" x2="1623.50" y2="39.60" stroke="#121212" stroke-width="2.0" />
<line x1="1623.50" y1="895.00" x2="1623.50" y2="879.50" stroke="#121212" stroke-width="2.0" />
<line x1="1645.27" y1="24.10" x2="1645.27" y2="32.10" stroke="#121212" stroke-width="2.0" />
<line x1="1645.27" y1="895.00" x2="1645.27" y2="887.00" stroke="#121212" stroke-width="2.0" />
<line x1="1667.04" y1="24.10" x2="1667.04" y2="32.10" stroke="#121212" stroke-width="2.0" />
<line x1="1667.04" y1="895.00" x2="1667.04" y2="887.00" stroke="#121212" stroke-width="2.0" />
<line x1="1688.81" y1="24.10" x2="1688.81" y2="32.10" stroke="#121212" stroke-width="2.0" />
<line x1="1688.81" y1="895.00" x2="1688.81" y2="887.00" stroke="#121212" stroke-width="2.0" />
<line x1="1710.58" y1="24.10" x2="1710.58" y2="32.10" stroke="#121212" stroke-width="2.0" />
<line x1="1710.58" y1="895.00" x2="1710.58" y2="887.00" stroke="#121212" stroke-width="2.0" />
<line x1="1732.35" y1="24.10" x2="1732.35" y2="39.60" stroke="#121212" stroke-width="2.0" />
<line x1="1732.35" y1="895.00" x2="1732.35" y2="879.50" stroke="#121212" stroke-width="2.0" />
<line x1="1754.12" y1="24.10" x2="1754.12" y2="32.10" stroke="#121212" stroke-width="2.0" />
<line x1="1754.12" y1="895.00" x2="1754.12" y2="887.00" stroke="#121212" stroke-width="2.0" />
<line x1="1775.89" y1="24.10" x2="1775.89" y2="32.10" stroke="#121212" stroke-width="2.0" />
<line x1="1775.89" y1="895.00" x2="1775.89" y2="887.00" stroke="#121212" stroke-width="2.0" />
<line x1="1797.66" y1="24.10" x2="1797.66" y2="32.10" stroke="#121212" stroke-width="2.0" />
<line x1="1797.66" y1="895.00" x2="1797.66" y2="887.00" stroke="#121212" stroke-width="2.0" />
<line x1="1819.43" y1="24.10" x2="1819.43" y2="32.10" stroke="#121212" stroke-width="2.0" />
<line x1="1819.43" y1="895.00" x2="1819.43" y2="887.00" stroke="#121212" stroke-width="2.0" />
<line x1="1841.20" y1="24.10" x2="1841.20" y2="39.60" stroke="#121212" stroke-width="2.0" />
<line x1="1841.20" y1="895.00" x2="1841.20" y2="879.50" stroke="#121212" stroke-width="2.0" />
<line x1="1862.97" y1="24.10" x2="1862.97" y2="32.10" stroke="#121212" stroke-width="2.0" />
<line x1="1862.97" y1="895.00" x2="1862.97" y2="887.00" stroke="#121212" stroke-width="2.0" />
<line x1="1884.74" y1="24.10" x2="1884.74" y2="32.10" stroke="#121212" stroke-width="2.0" />
<line x1="1884.74" y1="895.00" x2="1884.74" y2="887.00" stroke="#121212" stroke-width="2.0" />
<line x1="1906.51" y1="24.10" x2="1906.51" y2="32.10" stroke="#121212" stroke-width="2.0" />
<line x1="1906.51" y1="895.00" x2="1906.51" y2="887.00" stroke="#121212" stroke-width="2.0" />
<line x1="1928.28" y1="24.10" x2="1928.28" y2="32.10" stroke="#121212" stroke-width="2.0" />
<line x1="1928.28" y1="895.00" x2="1928.28" y2="887.00" stroke="#121212" stroke-width="2.0" />
<line x1="1950.05" y1="24.10" x2="1950.05" y2="39.60" stroke="#121212" stroke-width="2.0" />
<line x1="1950.05" y1="895.00" x2="1950.05" y2="879.50" stroke="#121212" stroke-width="2.0" />
<line x1="1971.82" y1="24.10" x2="1971.82" y2="32.10" stroke="#121212" stroke-width="2.0" />
<line x1="1971.82" y1="895.00" x2="1971.82" y2="887.00" stroke="#121212" stroke-width="2.0" />
<line x1="1993.59" y1="24.10" x2="1993.59" y2="32.10" stroke="#121212" stroke-width="2.0" />
<line x1="1993.59" y1="895.00" x2="1993.59" y2="887.00" stroke="#121212" stroke-width="2.0" />
<line x1="2015.36" y1="24.10" x2="2015.36" y2="32.10" stroke="#121212" stroke-width="2.0" />
<line x1="2015.36" y1="895.00" x2="2015.36" y2="887.00" stroke="#121212" stroke-width="2.0" />
<line x1="2037.13" y1="24.10" x2="2037.13" y2="32.10" stroke="#121212" stroke-width="2.0" />
<line x1="2037.13" y1="895.00" x2="2037.13" y2="887.00" stroke="#121212" stroke-width="2.0" />
<line x1="1188.10" y1="851.47" x2="1196.10" y2="851.47" stroke="#121212" stroke-width="2.0" />
<line x1="2058.90" y1="851.47" x2="2050.90" y2="851.47" stroke="#121212" stroke-width="2.0" />
<line x1="1188.10" y1="807.94" x2="1196.10" y2="807.94" stroke="#121212" stroke-width="2.0" />
<line x1="2058.90" y1="807.94" x2="2050.90" y2="807.94" stroke="#121212" stroke-width="2.0" />
<line x1="1188.10" y1="764.41" x2="1196.10" y2="764.41" stroke="#121212" stroke-width="2.0" />
<line x1="2058.90" y1="764.41" x2="2050.90" y2="764.41" stroke="#121212" stroke-width="2.0" />
<line x1="1188.10" y1="720.88" x2="1196.10" y2="720.88" stroke="#121212" stroke-width="2.0" />
<line x1="2058.90" y1="720.88" x2="2050.90" y2="720.88" stroke="#121212" stroke-width="2.0" />
<line x1="1188.10" y1="677.35" x2="1203.60" y2="677.35" stroke="#121212" stroke-width="2.0" />
<line x1="2058.90" y1="677.35" x2="2043.40" y2="677.35" stroke="#121212" stroke-width="2.0" />
<line x1="1188.10" y1="633.82" x2="1196.10" y2="633.82" stroke="#121212" stroke-width="2.0" />
<line x1="2058.90" y1="633.82" x2="2050.90" y2="633.82" stroke="#121212" stroke-width="2.0" />
<line x1="1188.10" y1="590.29" x2="1196.10" y2="590.29" stroke="#121212" stroke-width="2.0" />
<line x1="2058.90" y1="590.29" x2="2050.90" y2="590.29" stroke="#121212" stroke-width="2.0" />
<line x1="1188.10" y1="546.76" x2="1196.10" y2="546.76" stroke="#121212" stroke-width="2.0" />
<line x1="2058.90" y1="546.76" x2="2050.90" y2="546.76" stroke="#121212" stroke-width="2.0" />
<line x1="1188.10" y1="503.23" x2="1196.10" y2="503.23" stroke="#121212" stroke-width="2.0" />
<line x1="2058.90" y1="503.23" x2="2050.90" y2="503.23" stroke="#121212" stroke-width="2.0" />
<line x1="1188.10" y1="459.70" x2="1203.60" y2="459.70" stroke="#121212" stroke-width="2.0" />
<line x1="2058.90" y1="459.70" x2="2043.40" y2="459.70" stroke="#121212" stroke-width="2.0" />
<line x1="1188.10" y1="416.17" x2="1196.10" y2="416.17" stroke="#121212" stroke-width="2.0" />
<line x1="2058.90" y1="416.17" x2="2050.90" y2="416.17" stroke="#121212" stroke-width="2.0" />
<line x1="1188.10" y1="372.64" x2="1196.10" y2="372.64" stroke="#121212" stroke-width="2.0" />
<line x1="2058.90" y1="372.64" x2="2050.90" y2="372.64" stroke="#121212" stroke-width="2.0" />
<line x1="1188.10" y1="329.11" x2="1196.10" y2="329.11" stroke="#121212" stroke-width="2.0" />
<line x1="2058.90" y1="329.11" x2="2050.90" y2="329.11" stroke="#121212" stroke-width="2.0" />
<line x1="1188.10" y1="285.58" x2="1196.10" y2="285.58" stroke="#121212" stroke-width="2.0" />
<line x1="2058.90" y1="285.58" x2="2050.90" y2="285.58" stroke="#121212" stroke-width="2.0" />
<line x1="1188.10" y1="242.05" x2="1203.60" y2="242.05" stroke="#121212" stroke-width="2.0" />
<line x1="2058.90" y1="242.05" x2="2043.40" y2="242.05" stroke="#121212" stroke-width="2.0" />
<line x1="1188.10" y1="198.52" x2="1196.10" y2="198.52" stroke="#121212" stroke-width="2.0" />
<line x1="2058.90" y1="198.52" x2="2050.90" y2="198.52" stroke="#121212" stroke-width="2.0" />
<line x1="1188.10" y1="154.99" x2="1196.10" y2="154.99" stroke="#121212" stroke-width="2.0" />
<line x1="2058.90" y1="154.99" x2="2050.90" y2="154.99" stroke="#121212" stroke-width="2.0" />
<line x1="1188.10" y1="111.46" x2="1196.10" y2="111.46" stroke="#121212" stroke-width="2.0" />
<line x1="2058.90" y1="111.46" x2="2050.90" y2="111.46" stroke="#121212" stroke-width="2.0" />
<line x1="1188.10" y1="67.93" x2="1196.10" y2="67.93" stroke="#121212" stroke-width="2.0" />
<line x1="2058.90" y1="67.93" x2="2050.90" y2="67.93" stroke="#121212" stroke-width="2.0" />
<rect x="1188.1" y="24.1" width="870.80" height="870.90" fill="none" stroke="#121212" stroke-width="2.0"/>
<g fill="#0000cc">
<circle cx="1416.4" cy="371.8" r="9"/>
<circle cx="1516.3" cy="458.8" r="9"/>
<circle cx="1613.6" cy="545.9" r="9"/>
<circle cx="1697.7" cy="634.3" r="9"/>
<circle cx="1778.9" cy="721.3" r="9"/>
<circle cx="1867.0" cy="807.5" r="9"/>
<circle cx="1913.0" cy="851.0" r="9"/>
<circle cx="1990.9" cy="895.0" r="9"/>
</g>
<text x="1188.1" y="940.7" font-size="38.5" class="t" text-anchor="middle" textLength="21.0" lengthAdjust="spacingAndGlyphs" stroke="#000" stroke-width="0.6">0</text>
<text x="1296.9" y="940.7" font-size="38.5" class="t" text-anchor="middle" textLength="21.0" lengthAdjust="spacingAndGlyphs" stroke="#000" stroke-width="0.6">1</text>
<text x="1405.8" y="940.7" font-size="38.5" class="t" text-anchor="middle" textLength="21.0" lengthAdjust="spacingAndGlyphs" stroke="#000" stroke-width="0.6">2</text>
<text x="1514.6" y="940.7" font-size="38.5" class="t" text-anchor="middle" textLength="21.0" lengthAdjust="spacingAndGlyphs" stroke="#000" stroke-width="0.6">3</text>
<text x="1623.5" y="940.7" font-size="38.5" class="t" text-anchor="middle" textLength="21.0" lengthAdjust="spacingAndGlyphs" stroke="#000" stroke-width="0.6">4</text>
<text x="1732.3" y="940.7" font-size="38.5" class="t" text-anchor="middle" textLength="21.0" lengthAdjust="spacingAndGlyphs" stroke="#000" stroke-width="0.6">5</text>
<text x="1841.2" y="940.7" font-size="38.5" class="t" text-anchor="middle" textLength="21.0" lengthAdjust="spacingAndGlyphs" stroke="#000" stroke-width="0.6">6</text>
<text x="1950.0" y="940.7" font-size="38.5" class="t" text-anchor="middle" textLength="21.0" lengthAdjust="spacingAndGlyphs" stroke="#000" stroke-width="0.6">7</text>
<text x="2058.9" y="940.7" font-size="38.5" class="t" text-anchor="middle" textLength="21.0" lengthAdjust="spacingAndGlyphs" stroke="#000" stroke-width="0.6">8</text>
<text x="1175.0" y="904.1" font-size="38.5" class="t" text-anchor="end" textLength="52.5" lengthAdjust="spacingAndGlyphs" stroke="#000" stroke-width="0.6">0.0</text>
<text x="1175.0" y="686.5" font-size="38.5" class="t" text-anchor="end" textLength="52.5" lengthAdjust="spacingAndGlyphs" stroke="#000" stroke-width="0.6">0.5</text>
<text x="1175.0" y="468.8" font-size="38.5" class="t" text-anchor="end" textLength="52.5" lengthAdjust="spacingAndGlyphs" stroke="#000" stroke-width="0.6">1.0</text>
<text x="1175.0" y="251.1" font-size="38.5" class="t" text-anchor="end" textLength="52.5" lengthAdjust="spacingAndGlyphs" stroke="#000" stroke-width="0.6">1.5</text>
<text x="1175.0" y="33.5" font-size="38.5" class="t" text-anchor="end" textLength="52.5" lengthAdjust="spacingAndGlyphs" stroke="#000" stroke-width="0.6">2.0</text>
<text x="1474.3" y="991.3" font-size="38" class="t" textLength="299.5" lengthAdjust="spacingAndGlyphs" stroke="#000" stroke-width="0.55">Temperature (K)</text>
<g transform="translate(1091.6,0) rotate(-90)">
<text x="-534" y="0" font-size="44" font-style="italic" class="s">μ</text>
<text x="-500" y="8.7" font-size="27.5" class="t" stroke="#000" stroke-width="0.5">0</text>
<text x="-481" y="0" font-size="43" font-style="italic" class="s">H</text>
<text x="-453.5" y="8.7" font-size="27.5" class="t" stroke="#000" stroke-width="0.4">c</text>
<text x="-442" y="8.7" font-size="27.5" class="t" stroke="#000" stroke-width="0.4">2</text>
<text x="-414.3" y="0.0" font-size="40" class="t">(</text>
<text x="-400.7" y="0.0" font-size="41" class="t" textLength="22.5" lengthAdjust="spacingAndGlyphs" stroke="#000" stroke-width="0.4">T</text>
<text x="-377.0" y="0.0" font-size="40" class="t">)</text>
</g>
<text transform="translate(1219.8,116.3) scale(1.045,0.985)" font-size="66" class="s" stroke="#000" stroke-width="0.35">(b)</text>
<text transform="translate(1905.3,105.7) scale(0.925,1)" font-size="41" class="b">LaBi</text>
<text x="1988.5" y="114.4" font-size="27.5" class="s" stroke="#000" stroke-width="0.5">3</text>
</g>
</svg>
</body>
</html>
